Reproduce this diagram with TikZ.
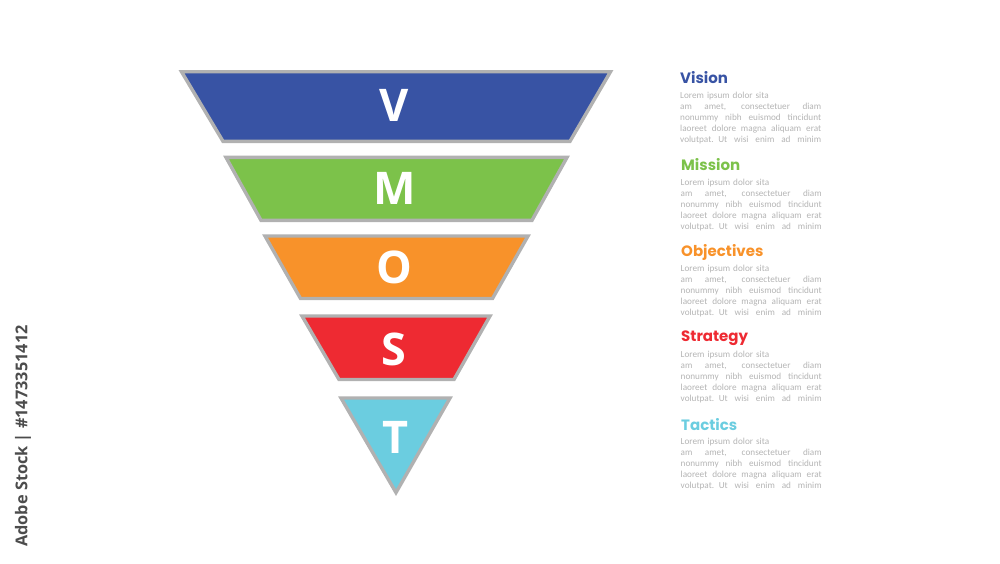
\documentclass[tikz,border=0pt]{standalone}
\usepackage{fontspec}
\usepackage{xcolor}
\usepackage{tikz}
\setmainfont{Open Sans}
\newfontfamily\headfont{Poppins}
\newfontfamily\bodyfont{Carlito}
\definecolor{visionblue}{HTML}{3853A4}
\definecolor{missiongreen}{HTML}{7CC24A}
\definecolor{objorange}{HTML}{F8922A}
\definecolor{strategyred}{HTML}{EE2A32}
\definecolor{tacticscyan}{HTML}{6BCDE0}
\definecolor{bandgray}{HTML}{B1B1B1}
\definecolor{bodygray}{HTML}{B4B4B4}
\tikzstyle{band}=[draw=bandgray,line width=3.4pt,line join=miter]
\tikzstyle{letter}=[text=white,inner sep=0pt,font=\fontsize{45}{45}\selectfont\bfseries]
\tikzstyle{heading}=[anchor=west,inner sep=0pt,font=\headfont\fontsize{15}{15}\selectfont\bfseries]
\tikzstyle{lorem}=[anchor=north west,inner sep=0pt,text width=141pt,align=left,text=bodygray,font=\bodyfont\fontsize{9.2}{11}\selectfont]
\def\fillline#1{\leavevmode\hbox to 141pt{\spaceskip=.22em plus 1em\relax #1}}
\def\topic#1#2#3#4#5{
  \node [heading,text=#3] (#1head) at (#2) {#4};
  \node [lorem] (#1text) at (#5) {Lorem ipsum dolor sita\\
    \fillline{am amet, consectetuer diam}\\
    \fillline{nonummy nibh euismod tincidunt}\\
    \fillline{laoreet dolore magna aliquam erat}\\
    \fillline{volutpat. Ut wisi enim ad minim}};
}
\begin{document}
\begin{tikzpicture}[x=1pt,y=-1pt]
    \useasboundingbox (0,0) rectangle (1000,563);
    % funnel
    \draw[band,fill=visionblue] (181.5,71.7) -- (610.5,71.7) -- (570,141.3) -- (223,141.3) -- cycle;
    \draw[band,fill=missiongreen] (226,157.4) -- (567,157.4) -- (532,220.3) -- (261,220.3) -- cycle;
    \draw[band,fill=objorange] (265,236) -- (528,236) -- (492.5,298.5) -- (300.5,298.5) -- cycle;
    \draw[band,fill=strategyred] (302,316) -- (490,316) -- (454,379.5) -- (339,379.5) -- cycle;
    \draw[band,fill=tacticscyan] (341,398) -- (450,398) -- (396,492.6) -- cycle;
    \node [letter] (vletter) at (394,105) {V};
    \node [letter] (mletter) at (395,188) {M};
    \node [letter] (oletter) at (394,267) {O};
    \node [letter] (sletter) at (394,349) {S};
    \node [letter] (tletter) at (396,437) {T};
    % right column
    \topic{vision}{680,78}{visionblue}{Vision}{680,92}
    \topic{mission}{681,165}{missiongreen}{Mission}{680.5,179}
    \topic{objectives}{681,252}{objorange}{Objectives}{680.5,265}
    \topic{strategy}{681,338}{strategyred}{Strategy}{680.5,351}
    \topic{tactics}{681,425}{tacticscyan}{Tactics}{680.5,438}
    % side label
    \node [rotate=90,inner sep=0pt,text=black!70,font=\fontsize{16.3}{18}\selectfont\bfseries] (stocklabel) at (23,436) {Adobe Stock | \#1473351412};
  \end{tikzpicture}
\end{document}
